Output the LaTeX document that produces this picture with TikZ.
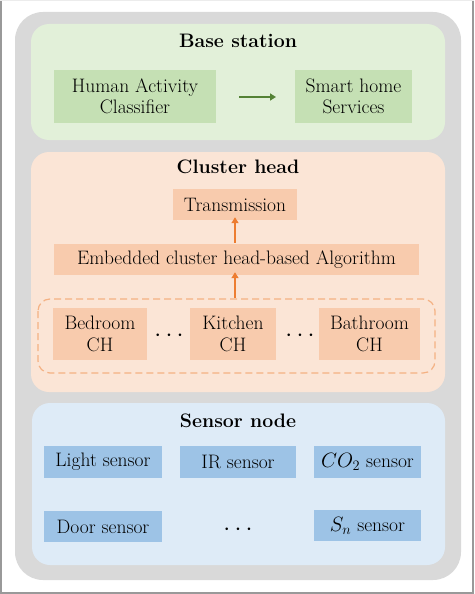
\documentclass[tikz,border=0pt]{standalone}
\usetikzlibrary{arrows.meta}
\definecolor{outergray}{HTML}{D9D9D9}
\definecolor{greenbg}{HTML}{E2F0D9}
\definecolor{greenbox}{HTML}{C5E0B4}
\definecolor{greenarrow}{HTML}{548235}
\definecolor{peachbg}{HTML}{FBE5D6}
\definecolor{peachbox}{HTML}{F8CBAD}
\definecolor{orangearrow}{HTML}{ED7D31}
\definecolor{dashcol}{HTML}{F4B183}
\definecolor{bluebg}{HTML}{DEEBF7}
\definecolor{bluebox}{HTML}{9DC3E6}
\tikzset{
  txt/.style={font=\fontsize{19.5}{21.5}\selectfont, align=center, inner sep=0pt},
  title/.style={font=\bfseries\fontsize{19.5}{22}\selectfont, inner sep=0pt},
  gbox/.style={txt, fill=greenbox, minimum height=53pt},
  pbox/.style={txt, fill=peachbox},
  bbox/.style={txt, fill=bluebox, minimum height=32pt},
  garrow/.style={draw=greenarrow, line width=1.8pt, -{Triangle[length=6pt,width=7pt]}},
  oarrow/.style={draw=orangearrow, line width=1.8pt, -{Triangle[length=6pt,width=7pt]}},
  dotsnode/.style={font=\bfseries\fontsize{24}{26}\selectfont, inner sep=0pt}
}
\begin{document}
\begin{tikzpicture}[x=1pt,y=-1pt]
\useasboundingbox (0,0) rectangle (474,594);
\fill[white] (0,0) rectangle (474,594);
% frame lines
\draw[draw=gray!80, line width=2pt] (1,0) -- (1,594);
\draw[draw=gray!80, line width=1.5pt] (473,0) -- (473,594);
\draw[draw=gray!80, line width=1.5pt] (0,593) -- (474,593);
\draw[draw=gray!15, line width=1pt] (0,0.5) -- (474,0.5);
% outer
\fill[outergray, rounded corners=28pt] (15,12) rectangle (461,580);
% base station
\fill[greenbg, rounded corners=18pt] (31,24) rectangle (445,140);
\node[title] (bt) at (238,41) {Base station};
\node[gbox, minimum width=162pt] (hac) at (135,96.5) {Human Activity\\Classifier};
\node[gbox, minimum width=117pt] (shs) at (353.5,96.5) {Smart home\\Services};
\coordinate (ga) at (239,97);
\coordinate (gb) at (276,97);
\draw[garrow] (ga) -- (gb);
% cluster head
\fill[peachbg, rounded corners=18pt] (31,152) rectangle (445,392);
\node[title] (ct) at (238,167) {Cluster head};
\node[pbox, minimum width=124pt, minimum height=31pt] (tr) at (235,204.5) {Transmission};
\node[pbox, minimum width=365pt, minimum height=31pt] (emb) at (236.5,259.5) {Embedded cluster head-based Algorithm};
\draw[dashcol, line width=1.2pt, dash pattern=on 7pt off 4pt, rounded corners=12pt] (38,299) rectangle (435,373);
\coordinate (dtop) at (235,298);
\node[pbox, minimum width=94pt, minimum height=52pt] (bed) at (100,334) {Bedroom\\CH};
\node[pbox, minimum width=86pt, minimum height=52pt] (kit) at (233,334) {Kitchen\\CH};
\node[pbox, minimum width=101pt, minimum height=52pt] (bath) at (369.5,334) {Bathroom\\CH};
\node[dotsnode] (d1) at (169,336) {$\cdots$};
\node[dotsnode] (d2) at (300,336) {$\cdots$};
\draw[oarrow] (emb.north -| tr.south) ++(0,-1) -- ([yshift=3pt]tr.south);
\draw[oarrow] (dtop) -- ([yshift=3pt]emb.south -| dtop);
% sensor node
\fill[bluebg, rounded corners=18pt] (32,403) rectangle (445,565);
\node[title] (st) at (238,421) {Sensor node};
\node[bbox, minimum width=118pt] (light) at (103,462) {Light sensor};
\node[bbox, minimum width=116pt] (ir) at (238,462) {IR sensor};
\node[bbox, minimum width=107pt] (co) at (367.5,462) {$CO_2$ sensor};
\node[bbox, minimum width=118pt, minimum height=31pt] (door) at (103,526.5) {Door sensor};
\node[dotsnode] (d3) at (238,530) {$\cdots$};
\node[bbox, minimum width=107pt, minimum height=31pt] (sn) at (367.5,525.5) {$S_n$ sensor};
\end{tikzpicture}
\end{document}
